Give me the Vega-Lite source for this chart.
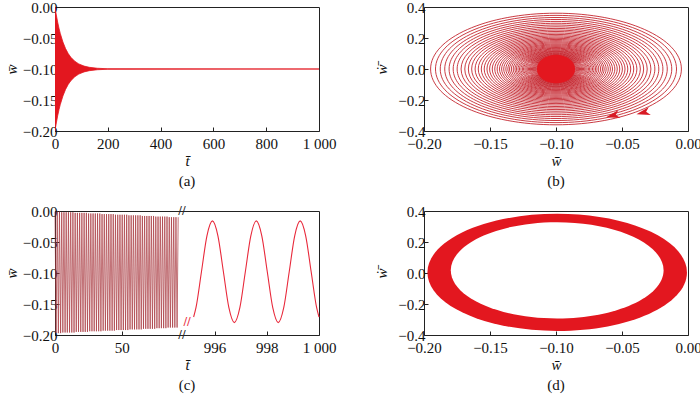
{
  "$schema": "https://vega.github.io/schema/vega-lite/v6.json",
  "background": "white",
  "padding": {"left": 3, "top": -1, "right": 0, "bottom": 0},
  "config": {
    "font": "Liberation Serif, DejaVu Serif, serif",
    "view": {"stroke": "#222", "strokeWidth": 1},
    "axis": {
      "domain": false, "grid": false, "tickSize": -4, "tickColor": "#222", "tickWidth": 1,
      "labelFont": "Liberation Serif, DejaVu Serif, serif", "labelFontSize": 15, "labelColor": "#111",
      "labelFlush": false, "labelOverlap": false,
      "titleFont": "Liberation Serif, DejaVu Serif, serif", "titleFontSize": 15, "titleFontWeight": "normal", "titleFontStyle": "italic", "titleColor": "#111", "titlePadding": 3
    },
    "axisX": {"labelPadding": 9, "titlePadding": 2},
    "axisY": {"labelPadding": 2, "titlePadding": 3},
    "title": {"font": "Liberation Serif, DejaVu Serif, serif", "fontSize": 15, "fontWeight": "normal", "color": "#111", "orient": "bottom", "anchor": "middle", "offset": 6}
  },
  "columns": 2,
  "spacing": {"row": 80, "column": 105},
  "bounds": "flush",
  "concat": [
    {
      "width": 264, "height": 124,
      "title": {"text": "(a)"},
      "data": {"values": [
        {"t": 0, "lo": -0.2, "hi": 0.0},
        {"t": 2, "lo": -0.1946, "hi": -0.0054},
        {"t": 5, "lo": -0.187, "hi": -0.013},
        {"t": 10, "lo": -0.1757, "hi": -0.0243},
        {"t": 15, "lo": -0.1659, "hi": -0.0341},
        {"t": 20, "lo": -0.1574, "hi": -0.0426},
        {"t": 30, "lo": -0.1435, "hi": -0.0565},
        {"t": 40, "lo": -0.1329, "hi": -0.0671},
        {"t": 50, "lo": -0.1249, "hi": -0.0751},
        {"t": 60, "lo": -0.1189, "hi": -0.0811},
        {"t": 75, "lo": -0.1125, "hi": -0.0875},
        {"t": 90, "lo": -0.1082, "hi": -0.0918},
        {"t": 110, "lo": -0.1047, "hi": -0.0953},
        {"t": 130, "lo": -0.1027, "hi": -0.0973},
        {"t": 160, "lo": -0.1012, "hi": -0.0988},
        {"t": 200, "lo": -0.1004, "hi": -0.0996},
        {"t": 1000, "lo": -0.1, "hi": -0.1}
      ]},
      "mark": {"type": "area", "color": "#e3171f", "stroke": "#e3171f", "strokeWidth": 0.8, "clip": true},
      "encoding": {
        "x": {"field": "t", "type": "quantitative", "scale": {"domain": [0, 1000], "nice": false},
              "axis": {"values": [0, 200, 400, 600, 800, 1000], "title": "t̄", "labelExpr": "datum.value == 1000 ? '1 000' : datum.label"}},
        "y": {"field": "lo", "type": "quantitative", "scale": {"domain": [-0.2, 0], "nice": false, "zero": false},
              "axis": {"values": [0, -0.05, -0.1, -0.15, -0.2], "format": ".2f", "title": "w̄"}},
        "y2": {"field": "hi"}
      }
    },
    {
      "width": 264, "height": 124,
      "title": {"text": "(b)"},
      "encoding": {
        "x": {"field": "w", "type": "quantitative", "scale": {"domain": [-0.2, 0], "nice": false, "zero": false},
              "axis": {"values": [-0.2, -0.15, -0.1, -0.05, 0], "format": ".2f", "title": "w̄"}},
        "y": {"field": "wd", "type": "quantitative", "scale": {"domain": [-0.4, 0.4], "nice": false, "zero": false},
              "axis": {"values": [-0.4, -0.2, 0, 0.2, 0.4], "format": ".1f", "title": "ẇ̄", "labelPadding": 3, "titlePadding": 8}}
      },
      "layer": [
        {
          "data": {"values": [
            {"A": 0.0950, "w": -0.1, "wd": 0}, {"A": 0.0913, "w": -0.1, "wd": 0}, {"A": 0.0877, "w": -0.1, "wd": 0},
            {"A": 0.0843, "w": -0.1, "wd": 0}, {"A": 0.0810, "w": -0.1, "wd": 0}, {"A": 0.0779, "w": -0.1, "wd": 0},
            {"A": 0.0749, "w": -0.1, "wd": 0}, {"A": 0.0719, "w": -0.1, "wd": 0}, {"A": 0.0691, "w": -0.1, "wd": 0},
            {"A": 0.0664, "w": -0.1, "wd": 0}, {"A": 0.0639, "w": -0.1, "wd": 0}, {"A": 0.0613, "w": -0.1, "wd": 0},
            {"A": 0.0589, "w": -0.1, "wd": 0}, {"A": 0.0566, "w": -0.1, "wd": 0}, {"A": 0.0544, "w": -0.1, "wd": 0},
            {"A": 0.0523, "w": -0.1, "wd": 0}, {"A": 0.0503, "w": -0.1, "wd": 0}, {"A": 0.0483, "w": -0.1, "wd": 0},
            {"A": 0.0464, "w": -0.1, "wd": 0}, {"A": 0.0446, "w": -0.1, "wd": 0}, {"A": 0.0428, "w": -0.1, "wd": 0},
            {"A": 0.0412, "w": -0.1, "wd": 0}, {"A": 0.0396, "w": -0.1, "wd": 0}, {"A": 0.0380, "w": -0.1, "wd": 0},
            {"A": 0.0365, "w": -0.1, "wd": 0}, {"A": 0.0352, "w": -0.1, "wd": 0}, {"A": 0.0338, "w": -0.1, "wd": 0},
            {"A": 0.0324, "w": -0.1, "wd": 0}, {"A": 0.0311, "w": -0.1, "wd": 0}, {"A": 0.0300, "w": -0.1, "wd": 0},
            {"A": 0.0288, "w": -0.1, "wd": 0}, {"A": 0.0277, "w": -0.1, "wd": 0}, {"A": 0.0266, "w": -0.1, "wd": 0},
            {"A": 0.0255, "w": -0.1, "wd": 0}, {"A": 0.0246, "w": -0.1, "wd": 0}, {"A": 0.0236, "w": -0.1, "wd": 0},
            {"A": 0.0227, "w": -0.1, "wd": 0}, {"A": 0.0218, "w": -0.1, "wd": 0}, {"A": 0.0209, "w": -0.1, "wd": 0},
            {"A": 0.0201, "w": -0.1, "wd": 0}, {"A": 0.0194, "w": -0.1, "wd": 0}, {"A": 0.0186, "w": -0.1, "wd": 0},
            {"A": 0.0179, "w": -0.1, "wd": 0}, {"A": 0.0172, "w": -0.1, "wd": 0}, {"A": 0.0165, "w": -0.1, "wd": 0},
            {"A": 0.0158, "w": -0.1, "wd": 0}, {"A": 0.0152, "w": -0.1, "wd": 0}, {"A": 0.0146, "w": -0.1, "wd": 0}
          ]},
          "mark": {"type": "point", "shape": "M-1,0A1,0.445,0,1,1,1,0A1,0.445,0,1,1,-1,0Z", "filled": false, "stroke": "#c4262f", "strokeWidth": 0.9, "opacity": 1},
          "encoding": {
            "size": {"field": "A", "type": "quantitative", "scale": {"type": "pow", "exponent": 2, "domain": [0, 0.1], "range": [0, 69696]}, "legend": null}
          }
        },
        {
          "data": {"values": [{"A": 0.0145, "w": -0.1, "wd": 0}]},
          "mark": {"type": "point", "shape": "M-1,0A1,0.75,0,1,1,1,0A1,0.75,0,1,1,-1,0Z", "filled": true, "fill": "#e3171f", "opacity": 1},
          "encoding": {
            "size": {"field": "A", "type": "quantitative", "legend": null}
          }
        },
        {
          "data": {"values": [{"w": -0.057, "wd": -0.301}, {"w": -0.034, "wd": -0.281}]},
          "mark": {"type": "point", "shape": "M-1,0L1,-0.6L0.45,0L1,0.6Z", "filled": true, "fill": "#d81a24", "size": 190, "angle": -14, "opacity": 1}
        }
      ]
    },
    {
      "width": 264, "height": 124,
      "title": {"text": "(c)"},
      "encoding": {
        "x": {"field": "t", "type": "quantitative",
              "scale": {"domain": [0, 93, 994.87, 1000], "range": [0, 124, 130, 264], "nice": false, "zero": false},
              "axis": {"values": [0, 50, 996, 998, 1000], "title": "t̄", "labelExpr": "datum.value == 1000 ? '1 000' : datum.label"}},
        "y": {"field": "w", "type": "quantitative", "scale": {"domain": [-0.2, 0], "nice": false, "zero": false},
              "axis": {"values": [0, -0.05, -0.1, -0.15, -0.2], "format": ".2f", "title": "w̄"}}
      },
      "layer": [
        {
          "data": {"values": [
            {"t": 0, "w": -0.001}, {"t": 0.84, "w": -0.197}, {"t": 1.68, "w": -0.001}, {"t": 2.52, "w": -0.197},
            {"t": 3.36, "w": -0.001}, {"t": 4.2, "w": -0.197}, {"t": 5.04, "w": -0.002}, {"t": 5.88, "w": -0.196},
            {"t": 6.72, "w": -0.002}, {"t": 7.56, "w": -0.196}, {"t": 8.4, "w": -0.002}, {"t": 9.24, "w": -0.196},
            {"t": 10.08, "w": -0.002}, {"t": 10.92, "w": -0.196}, {"t": 11.76, "w": -0.002}, {"t": 12.6, "w": -0.196},
            {"t": 13.44, "w": -0.002}, {"t": 14.28, "w": -0.196}, {"t": 15.12, "w": -0.003}, {"t": 15.96, "w": -0.195},
            {"t": 16.8, "w": -0.003}, {"t": 17.64, "w": -0.195}, {"t": 18.48, "w": -0.003}, {"t": 19.32, "w": -0.195},
            {"t": 20.16, "w": -0.003}, {"t": 21.0, "w": -0.195}, {"t": 21.84, "w": -0.003}, {"t": 22.68, "w": -0.195},
            {"t": 23.52, "w": -0.003}, {"t": 24.36, "w": -0.195}, {"t": 25.2, "w": -0.004}, {"t": 26.04, "w": -0.194},
            {"t": 26.88, "w": -0.004}, {"t": 27.72, "w": -0.194}, {"t": 28.56, "w": -0.004}, {"t": 29.4, "w": -0.194},
            {"t": 30.24, "w": -0.004}, {"t": 31.08, "w": -0.194}, {"t": 31.92, "w": -0.004}, {"t": 32.76, "w": -0.194},
            {"t": 33.6, "w": -0.004}, {"t": 34.44, "w": -0.194}, {"t": 35.28, "w": -0.005}, {"t": 36.12, "w": -0.193},
            {"t": 36.96, "w": -0.005}, {"t": 37.8, "w": -0.193}, {"t": 38.64, "w": -0.005}, {"t": 39.48, "w": -0.193},
            {"t": 40.32, "w": -0.005}, {"t": 41.16, "w": -0.193}, {"t": 42.0, "w": -0.005}, {"t": 42.84, "w": -0.193},
            {"t": 43.68, "w": -0.005}, {"t": 44.52, "w": -0.193}, {"t": 45.36, "w": -0.006}, {"t": 46.2, "w": -0.192},
            {"t": 47.04, "w": -0.006}, {"t": 47.88, "w": -0.192}, {"t": 48.72, "w": -0.006}, {"t": 49.56, "w": -0.192},
            {"t": 50.4, "w": -0.006}, {"t": 51.24, "w": -0.192}, {"t": 52.08, "w": -0.006}, {"t": 52.92, "w": -0.192},
            {"t": 53.76, "w": -0.006}, {"t": 54.6, "w": -0.192}, {"t": 55.44, "w": -0.007}, {"t": 56.28, "w": -0.191},
            {"t": 57.12, "w": -0.007}, {"t": 57.96, "w": -0.191}, {"t": 58.8, "w": -0.007}, {"t": 59.64, "w": -0.191},
            {"t": 60.48, "w": -0.007}, {"t": 61.32, "w": -0.191}, {"t": 62.16, "w": -0.007}, {"t": 63.0, "w": -0.191},
            {"t": 63.84, "w": -0.007}, {"t": 64.68, "w": -0.191}, {"t": 65.52, "w": -0.008}, {"t": 66.36, "w": -0.19},
            {"t": 67.2, "w": -0.008}, {"t": 68.04, "w": -0.19}, {"t": 68.88, "w": -0.008}, {"t": 69.72, "w": -0.19},
            {"t": 70.56, "w": -0.008}, {"t": 71.4, "w": -0.19}, {"t": 72.24, "w": -0.008}, {"t": 73.08, "w": -0.19},
            {"t": 73.92, "w": -0.008}, {"t": 74.76, "w": -0.19}, {"t": 75.6, "w": -0.009}, {"t": 76.44, "w": -0.189},
            {"t": 77.28, "w": -0.009}, {"t": 78.12, "w": -0.189}, {"t": 78.96, "w": -0.009}, {"t": 79.8, "w": -0.189},
            {"t": 80.64, "w": -0.009}, {"t": 81.48, "w": -0.189}, {"t": 82.32, "w": -0.009}, {"t": 83.16, "w": -0.189},
            {"t": 84.0, "w": -0.009}, {"t": 84.84, "w": -0.188}, {"t": 85.68, "w": -0.01}, {"t": 86.52, "w": -0.188},
            {"t": 87.36, "w": -0.01}, {"t": 88.2, "w": -0.188}, {"t": 89.04, "w": -0.01}, {"t": 89.88, "w": -0.188},
            {"t": 90.72, "w": -0.01}, {"t": 91.56, "w": -0.188}, {"t": 92.4, "w": -0.01}
          ]},
          "mark": {"type": "line", "stroke": "#a8363e", "strokeWidth": 0.7}
        },
        {
          "data": {"values": [
            {"t": 995.2, "w": -0.171}, {"t": 995.29, "w": -0.156}, {"t": 995.5, "w": -0.098}, {"t": 995.71, "w": -0.04},
            {"t": 995.92, "w": -0.016}, {"t": 996.13, "w": -0.04}, {"t": 996.34, "w": -0.098}, {"t": 996.55, "w": -0.156},
            {"t": 996.76, "w": -0.18}, {"t": 996.97, "w": -0.156}, {"t": 997.18, "w": -0.098}, {"t": 997.39, "w": -0.04},
            {"t": 997.6, "w": -0.016}, {"t": 997.81, "w": -0.04}, {"t": 998.02, "w": -0.098}, {"t": 998.23, "w": -0.156},
            {"t": 998.44, "w": -0.18}, {"t": 998.65, "w": -0.156}, {"t": 998.86, "w": -0.098}, {"t": 999.07, "w": -0.04},
            {"t": 999.28, "w": -0.016}, {"t": 999.49, "w": -0.04}, {"t": 999.7, "w": -0.098}, {"t": 999.91, "w": -0.156},
            {"t": 1000, "w": -0.171}
          ]},
          "mark": {"type": "line", "stroke": "#e8283a", "strokeWidth": 1.1, "interpolate": "monotone"}
        },
        {
          "data": {"values": [{"t": 544, "w": 0}, {"t": 544, "w": -0.2}]},
          "mark": {"type": "text", "text": "//", "fontSize": 11, "color": "#222", "font": "DejaVu Sans", "clip": false}
        },
        {
          "data": {"values": [{"t": 994.95, "w": -0.179}]},
          "mark": {"type": "text", "text": "//", "fontSize": 11, "color": "#e8283a", "font": "DejaVu Sans"}
        }
      ]
    },
    {
      "width": 264, "height": 124,
      "title": {"text": "(d)"},
      "encoding": {
        "x": {"field": "w", "type": "quantitative", "scale": {"domain": [-0.2, 0], "nice": false, "zero": false},
              "axis": {"values": [-0.2, -0.15, -0.1, -0.05, 0], "format": ".2f", "title": "w̄"}},
        "y": {"field": "wd", "type": "quantitative", "scale": {"domain": [-0.4, 0.4], "nice": false, "zero": false},
              "axis": {"values": [-0.4, -0.2, 0, 0.2, 0.4], "format": ".1f", "title": "ẇ̄", "labelPadding": 3, "titlePadding": 8}},
        "size": {"field": "A", "type": "quantitative", "scale": {"type": "pow", "exponent": 2, "domain": [0, 0.1], "range": [0, 69696]}, "legend": null}
      },
      "layer": [
        {
          "data": {"values": [{"A": 0.0983, "w": -0.0991, "wd": 0.004}]},
          "mark": {"type": "point", "shape": "M-1,0A1,0.451,0,1,1,1,0A1,0.451,0,1,1,-1,0Z", "filled": true, "fill": "#e3171f", "opacity": 1}
        },
        {
          "data": {"values": [{"A": 0.0806, "w": -0.0991, "wd": 0.017}]},
          "mark": {"type": "point", "shape": "M-1,0A1,0.453,0,1,1,1,0A1,0.453,0,1,1,-1,0Z", "filled": true, "fill": "white", "opacity": 1}
        }
      ]
    }
  ]
}
